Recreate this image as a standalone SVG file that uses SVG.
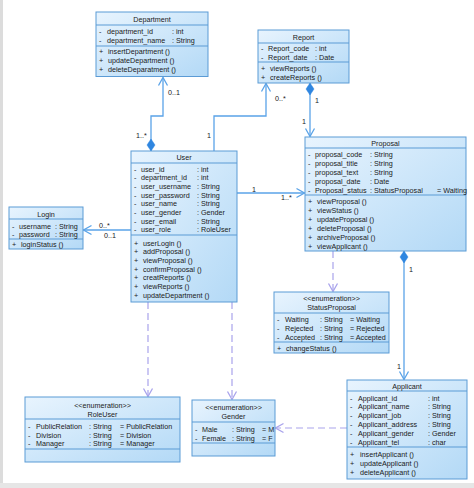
<svg xmlns="http://www.w3.org/2000/svg" width="474" height="488" viewBox="0 0 474 488">
<defs>
<linearGradient id="g" x1="0" y1="0" x2="1" y2="1">
<stop offset="0" stop-color="#e8f4fe"/>
<stop offset="1" stop-color="#b3d9f6"/>
</linearGradient>
<marker id="arr" viewBox="-10 -6 11 12" refX="0" refY="0" markerWidth="11" markerHeight="12" markerUnits="userSpaceOnUse" orient="auto">
<path d="M-8,-4.5 L0,0 L-8,4.5" fill="none" stroke="#5aa3e8" stroke-width="1.3"/>
</marker>
<marker id="arrd" viewBox="-10 -6 11 12" refX="0" refY="0" markerWidth="11" markerHeight="12" markerUnits="userSpaceOnUse" orient="auto">
<path d="M-8,-4.5 L0,0 L-8,4.5" fill="none" stroke="#a9a3ec" stroke-width="1.3"/>
</marker>
<marker id="dia" viewBox="0 -5 13 10" refX="0" refY="0" markerWidth="13" markerHeight="10" markerUnits="userSpaceOnUse" orient="auto">
<path d="M0,0 L6,-4 L12,0 L6,4 Z" fill="#2f86e0" stroke="#2f86e0" stroke-width="0.5"/>
</marker>
</defs>
<style>
.box{fill:url(#g);stroke:#5b9bd5;stroke-width:1}
.div{stroke:#5b9bd5;stroke-width:1}
text{font-family:"Liberation Sans",Arial,sans-serif;font-size:7.2px;fill:#1a1a1a}
.c{text-anchor:middle}
.conn{stroke:#5aa3e8;stroke-width:1.3;fill:none}
.dash{stroke:#a9a3ec;stroke-width:1.2;stroke-dasharray:7 4;fill:none}
</style>
<rect width="474" height="488" fill="#ffffff"/>
<rect x="0" y="0" width="3" height="488" fill="#dcdcdc"/>
<rect x="0" y="483" width="474" height="5" fill="#e6e6e6"/>

<g id="connectors">
<path class="conn" d="M151,151 L151,116 L163,116 L163,77.5" marker-start="url(#dia)" marker-end="url(#arr)"/>
<path class="conn" d="M214,151 L214,116 L266,116 L266,83.5" marker-end="url(#arr)"/>
<path class="conn" d="M310,83 L310,136.5" marker-start="url(#dia)" marker-end="url(#arr)"/>
<path class="conn" d="M237,193 L304.5,193" marker-end="url(#arr)"/>
<path class="conn" d="M131,230 L83.5,230" marker-end="url(#arr)"/>
<path class="conn" d="M404,251 L404,379.5" marker-start="url(#dia)" marker-end="url(#arr)"/>
<path class="dash" d="M333,251 L333,291.5" marker-end="url(#arrd)"/>
<path class="dash" d="M148,302 L148,396.5" marker-end="url(#arrd)"/>
<path class="dash" d="M232,302 L232,399.5" marker-end="url(#arrd)"/>
<path class="dash" d="M347,428 L275.5,428" marker-end="url(#arrd)"/>
<text x="168" y="95">0..1</text>
<text x="136" y="138">1..*</text>
<text x="275" y="101">0..*</text>
<text x="207" y="138">1</text>
<text x="315" y="103">1</text>
<text x="302" y="124">1</text>
<text x="252" y="192">1</text>
<text x="281" y="200">1..*</text>
<text x="99" y="228">0..*</text>
<text x="104" y="238">0..1</text>
<text x="409" y="272">1</text>
<text x="397" y="369">1</text>
</g>

<g id="Department">
<rect class="box" x="96" y="12" width="112" height="64.5"/>
<line class="div" x1="96" y1="25" x2="208" y2="25"/>
<line class="div" x1="96" y1="46" x2="208" y2="46"/>
<text class="c" x="152" y="21.5">Department</text>
<text x="99" y="33.5">-</text><text x="107" y="33.5">department_id</text><text x="172" y="33.5">: int</text>
<text x="99" y="42.5">-</text><text x="107" y="42.5">department_name</text><text x="172" y="42.5">: String</text>
<text x="99" y="53.5">+</text><text x="108" y="53.5">insertDepartment ()</text>
<text x="99" y="62.5">+</text><text x="108" y="62.5">updateDepartment ()</text>
<text x="99" y="71.5">+</text><text x="108" y="71.5">deleteDeparatment ()</text>
</g>

<g id="Report">
<rect class="box" x="258" y="30" width="91" height="53"/>
<line class="div" x1="258" y1="43" x2="349" y2="43"/>
<line class="div" x1="258" y1="62" x2="349" y2="62"/>
<text class="c" x="303.5" y="39.5">Report</text>
<text x="261" y="50.5">-</text><text x="268" y="50.5">Report_code</text><text x="315" y="50.5">: int</text>
<text x="261" y="59.5">-</text><text x="268" y="59.5">Report_date</text><text x="315" y="59.5">: Date</text>
<text x="261" y="70.5">+</text><text x="270" y="70.5">viewReports ()</text>
<text x="261" y="79.5">+</text><text x="270" y="79.5">createReports ()</text>
</g>

<g id="User">
<rect class="box" x="131" y="151" width="106" height="151"/>
<line class="div" x1="131" y1="163" x2="237" y2="163"/>
<line class="div" x1="131" y1="235" x2="237" y2="235"/>
<text class="c" x="184" y="159.5">User</text>
<text x="134" y="171.5">-</text><text x="141" y="171.5">user_id</text><text x="197" y="171.5">: int</text>
<text x="134" y="180.2">-</text><text x="141" y="180.2">department_id</text><text x="197" y="180.2">: int</text>
<text x="134" y="188.9">-</text><text x="141" y="188.9">user_username</text><text x="197" y="188.9">: String</text>
<text x="134" y="197.6">-</text><text x="141" y="197.6">user_password</text><text x="197" y="197.6">: String</text>
<text x="134" y="206.3">-</text><text x="141" y="206.3">user_name</text><text x="197" y="206.3">: String</text>
<text x="134" y="215">-</text><text x="141" y="215">user_gender</text><text x="197" y="215">: Gender</text>
<text x="134" y="223.7">-</text><text x="141" y="223.7">user_email</text><text x="197" y="223.7">: String</text>
<text x="134" y="232.4">-</text><text x="141" y="232.4">user_role</text><text x="197" y="232.4">: RoleUser</text>
<text x="134" y="245.5">+</text><text x="143" y="245.5">userLogin ()</text>
<text x="134" y="254.2">+</text><text x="143" y="254.2">addProposal ()</text>
<text x="134" y="262.9">+</text><text x="143" y="262.9">viewProposal ()</text>
<text x="134" y="271.6">+</text><text x="143" y="271.6">confirmProposal ()</text>
<text x="134" y="280.3">+</text><text x="143" y="280.3">creatReports ()</text>
<text x="134" y="289">+</text><text x="143" y="289">viewReports ()</text>
<text x="134" y="297.7">+</text><text x="143" y="297.7">updateDepartment ()</text>
</g>

<g id="Proposal">
<rect class="box" x="305" y="137" width="161" height="114"/>
<line class="div" x1="305" y1="148" x2="466" y2="148"/>
<line class="div" x1="305" y1="195" x2="466" y2="195"/>
<text class="c" x="385.5" y="145.5">Proposal</text>
<text x="308" y="156.5">-</text><text x="315" y="156.5">proposal_code</text><text x="370" y="156.5">: String</text>
<text x="308" y="165.5">-</text><text x="315" y="165.5">proposal_title</text><text x="370" y="165.5">: String</text>
<text x="308" y="174.5">-</text><text x="315" y="174.5">proposal_text</text><text x="370" y="174.5">: String</text>
<text x="308" y="183.5">-</text><text x="315" y="183.5">proposal_date</text><text x="370" y="183.5">: Date</text>
<text x="308" y="192.5">-</text><text x="315" y="192.5">Proposal_status</text><text x="370" y="192.5">: StatusProposal</text><text x="437" y="192.5">= Waiting</text>
<text x="308" y="203.5">+</text><text x="317" y="203.5">viewProposal ()</text>
<text x="308" y="212.5">+</text><text x="317" y="212.5">viewStatus ()</text>
<text x="308" y="221.5">+</text><text x="317" y="221.5">updateProposal ()</text>
<text x="308" y="230.5">+</text><text x="317" y="230.5">deleteProposal ()</text>
<text x="308" y="239.5">+</text><text x="317" y="239.5">archiveProposal ()</text>
<text x="308" y="248.5">+</text><text x="317" y="248.5">viewApplicant ()</text>
</g>

<g id="Login">
<rect class="box" x="9" y="207" width="74" height="42"/>
<line class="div" x1="9" y1="219" x2="83" y2="219"/>
<line class="div" x1="9" y1="239" x2="83" y2="239"/>
<text class="c" x="46" y="216.5">Login</text>
<text x="12" y="228.5">-</text><text x="19" y="228.5">username</text><text x="55" y="228.5">: String</text>
<text x="12" y="236.5">-</text><text x="19" y="236.5">password</text><text x="55" y="236.5">: String</text>
<text x="12" y="246.5">+</text><text x="21" y="246.5">loginStatus ()</text>
</g>

<g id="StatusProposal">
<rect class="box" x="274" y="292" width="115" height="61"/>
<line class="div" x1="274" y1="313" x2="389" y2="313"/>
<line class="div" x1="274" y1="342" x2="389" y2="342"/>
<text class="c" x="331.5" y="300.5">&lt;&lt;enumeration&gt;&gt;</text>
<text class="c" x="331.5" y="309.5">StatusProposal</text>
<text x="277" y="321.5">-</text><text x="285" y="321.5">Waiting</text><text x="320" y="321.5">: String</text><text x="350" y="321.5">= Waiting</text>
<text x="277" y="330.5">-</text><text x="285" y="330.5">Rejected</text><text x="320" y="330.5">: String</text><text x="350" y="330.5">= Rejected</text>
<text x="277" y="339.5">-</text><text x="285" y="339.5">Accepted</text><text x="320" y="339.5">: String</text><text x="350" y="339.5">= Accepted</text>
<text x="277" y="350.5">+</text><text x="286" y="350.5">changeStatus ()</text>
</g>

<g id="Applicant">
<rect class="box" x="347" y="380" width="120" height="99"/>
<line class="div" x1="347" y1="391" x2="467" y2="391"/>
<line class="div" x1="347" y1="447" x2="467" y2="447"/>
<text class="c" x="407" y="388.5">Applicant</text>
<text x="350" y="400.5">-</text><text x="358" y="400.5">Applicant_id</text><text x="428" y="400.5">: int</text>
<text x="350" y="409.3">-</text><text x="358" y="409.3">Applicant_name</text><text x="428" y="409.3">: String</text>
<text x="350" y="418.1">-</text><text x="358" y="418.1">Applicant_job</text><text x="428" y="418.1">: String</text>
<text x="350" y="426.9">-</text><text x="358" y="426.9">Applicant_address</text><text x="428" y="426.9">: String</text>
<text x="350" y="435.7">-</text><text x="358" y="435.7">Applicant_gender</text><text x="428" y="435.7">: Gender</text>
<text x="350" y="444.5">-</text><text x="358" y="444.5">Applicant_tel</text><text x="428" y="444.5">: char</text>
<text x="350" y="456.5">+</text><text x="360" y="456.5">insertApplicant ()</text>
<text x="350" y="465.5">+</text><text x="360" y="465.5">updateApplicant ()</text>
<text x="350" y="474.5">+</text><text x="360" y="474.5">deleteApplicant ()</text>
</g>

<g id="RoleUser">
<rect class="box" x="25" y="397" width="155" height="65"/>
<line class="div" x1="25" y1="419" x2="180" y2="419"/>
<line class="div" x1="25" y1="449" x2="180" y2="449"/>
<text class="c" x="102.5" y="407.5">&lt;&lt;enumeration&gt;&gt;</text>
<text class="c" x="102.5" y="416.5">RoleUser</text>
<text x="28" y="428.5">-</text><text x="36" y="428.5">PublicRelation</text><text x="89" y="428.5">: String</text><text x="120" y="428.5">= PublicRelation</text>
<text x="28" y="437.5">-</text><text x="36" y="437.5">Division</text><text x="89" y="437.5">: String</text><text x="120" y="437.5">= Division</text>
<text x="28" y="446">-</text><text x="36" y="446">Manager</text><text x="89" y="446">: String</text><text x="120" y="446">= Manager</text>
</g>

<g id="Gender">
<rect class="box" x="192" y="400" width="83" height="56"/>
<line class="div" x1="192" y1="422" x2="275" y2="422"/>
<line class="div" x1="192" y1="443" x2="275" y2="443"/>
<text class="c" x="233.5" y="409.5">&lt;&lt;enumeration&gt;&gt;</text>
<text class="c" x="233.5" y="418.5">Gender</text>
<text x="195" y="431.5">-</text><text x="202" y="431.5">Male</text><text x="232" y="431.5">: String</text><text x="262" y="431.5">= M</text>
<text x="195" y="440.5">-</text><text x="202" y="440.5">Female</text><text x="232" y="440.5">: String</text><text x="262" y="440.5">= F</text>
</g>
</svg>
